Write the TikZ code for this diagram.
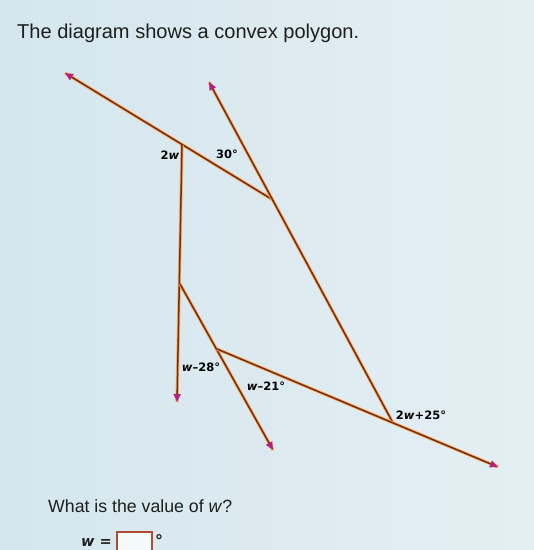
\documentclass[tikz,border=0pt]{standalone}
\usepackage{fontspec}
\setmainfont{Liberation Sans}
\newfontfamily\labfont{DejaVu Sans}
\usetikzlibrary{arrows.meta}
\definecolor{bgA}{HTML}{D5E6EE}
\definecolor{bgB}{HTML}{E4EFF3}
\definecolor{linecol}{HTML}{7A2A12}
\definecolor{halo}{HTML}{F2B060}
\definecolor{tipcol}{HTML}{B8207A}
\definecolor{txt}{HTML}{1E1E1E}
\definecolor{boxcol}{HTML}{B04A30}
\tikzset{
  ray/.style={draw=linecol, line width=1.5pt,
    preaction={draw=halo, line width=3.2pt, -},
    -{Triangle[length=8pt,width=7pt,fill=tipcol,color=tipcol]}},
  anglab/.style={inner sep=0pt, font=\labfont\fontsize{11.5}{13}\selectfont\bfseries, text=black},
}
\begin{document}
\begin{tikzpicture}[x=1pt,y=-1pt]
\shade[left color=bgA, right color=bgB] (0,0) rectangle (534,550);
\useasboundingbox (0,0) rectangle (534,550);
% title
\node[inner sep=0pt, anchor=base west, text=txt] (title) at (17,38)
  {\resizebox{342pt}{!}{The diagram shows a convex polygon.}};
% vertices
\coordinate (A) at (182,145);
\coordinate (B) at (273,200);
\coordinate (E) at (393,423);
\coordinate (D) at (217,349);
\coordinate (C) at (180,284);
% arrow tips
\coordinate (L) at (65,73);
\coordinate (T) at (209,82);
\coordinate (V) at (177,402);
\coordinate (W) at (273,450);
\coordinate (R) at (498,467);
% rays
\draw[ray] (B) -- (L);
\draw[ray] (E) -- (T);
\draw[ray] (A) -- (V);
\draw[ray] (C) -- (W);
\draw[ray] (D) -- (R);
% angle labels
\node[anglab] (l1) at (170,155) {2\textit{w}};
\node[anglab] (l2) at (227,154) {30°};
\node[anglab] (l3) at (201,367) {\textit{w}–28°};
\node[anglab] (l4) at (266,386) {\textit{w}–21°};
\node[anglab] (l5) at (421,415) {2\textit{w}+25°};
% question
\node[inner sep=0pt, anchor=base west, text=txt] (q) at (48,512)
  {\resizebox{184pt}{!}{What is the value of \textit{w}?}};
\node[inner sep=0pt, anchor=west, text=txt, font=\labfont\fontsize{14.5}{16}\selectfont\bfseries] (weq) at (81,543) {\textit{w} =};
\draw[boxcol, line width=1.4pt, fill=white!60!bgB] (117,560) -- (117,532) -- (152,532) -- (152,560);
\node[inner sep=0pt, text=txt, font=\labfont\fontsize{16}{18}\selectfont\bfseries] (deg) at (159,541) {°};
\end{tikzpicture}
\end{document}
